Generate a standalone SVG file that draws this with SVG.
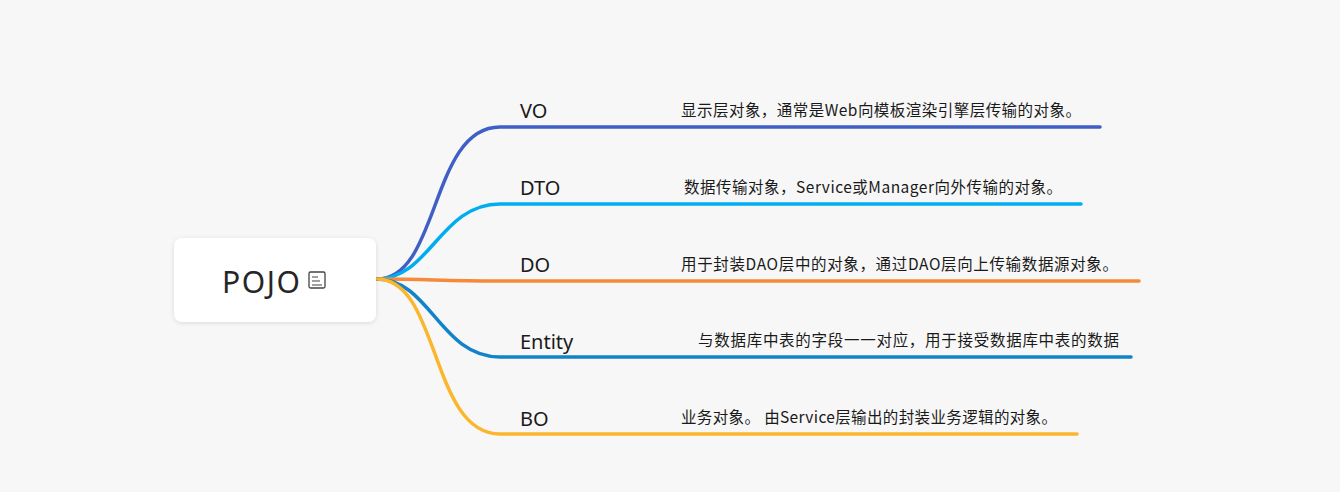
<svg xmlns="http://www.w3.org/2000/svg" width="1340" height="492" viewBox="0 0 1340 492">
<defs>
<style>
.c{fill:none;stroke-width:3.5;stroke-linecap:round}
.l{font-family:"Noto Sans","Liberation Sans",sans-serif;font-size:20px;fill:#1a1a1a}
.d{font-family:"Noto Sans CJK SC","Liberation Sans",sans-serif;font-size:15.5px;fill:#1a1a1a}
</style>
<filter id="sh" x="-10%" y="-10%" width="120%" height="130%"><feDropShadow dx="0" dy="1" stdDeviation="2" flood-color="#000" flood-opacity="0.12"/></filter>
</defs>
<rect width="1340" height="492" fill="#f7f7f7"/>
<g id="connectors">
<path class="c" stroke="#3f5fc6" d="M377,279 C440,279 430,127 500,127 L1100,127"/>
<path class="c" stroke="#00aeef" d="M377,279 C430,279 440,204 500,204 L1081,204"/>
<path class="c" stroke="#f7893a" d="M377,279 C430,279 440,281 500,281 L1139,281"/>
<path class="c" stroke="#1383c9" d="M377,279 C430,279 440,357 500,357 L1131,357"/>
<path class="c" stroke="#fbb62e" d="M377,279 C440,279 430,434 500,434 L1077,434"/>
</g>
<g id="root">
<rect x="174" y="238" width="202" height="84" rx="8" fill="#fff" filter="url(#sh)"/>
<text x="222" y="293" font-family="Noto Sans,Liberation Sans,sans-serif" font-size="30" textLength="78" fill="#262626">POJO</text>
<rect x="309" y="272" width="16" height="16" rx="1.5" fill="none" stroke="#444" stroke-width="1.3"/>
<path d="M312,277 h6 M312,281 h8 M312,285 h10" stroke="#444" stroke-width="1.2"/>
</g>
<g id="vo"><text class="l" x="520" y="118">VO</text><text class="d" x="681" y="116" textLength="400">显示层对象，通常是Web向模板渲染引擎层传输的对象。</text></g>
<g id="dto"><text class="l" x="520" y="195">DTO</text><text class="d" x="684" y="193" textLength="378">数据传输对象，Service或Manager向外传输的对象。</text></g>
<g id="do"><text class="l" x="520" y="272">DO</text><text class="d" x="681" y="270" textLength="437">用于封装DAO层中的对象，通过DAO层向上传输数据源对象。</text></g>
<g id="entity"><text class="l" x="520" y="349">Entity</text><text class="d" x="698" y="346" textLength="421">与数据库中表的字段一一对应，用于接受数据库中表的数据</text></g>
<g id="bo"><text class="l" x="520" y="426">BO</text><text class="d" x="681" y="423" textLength="376">业务对象。 由Service层输出的封装业务逻辑的对象。</text></g>
</svg>
